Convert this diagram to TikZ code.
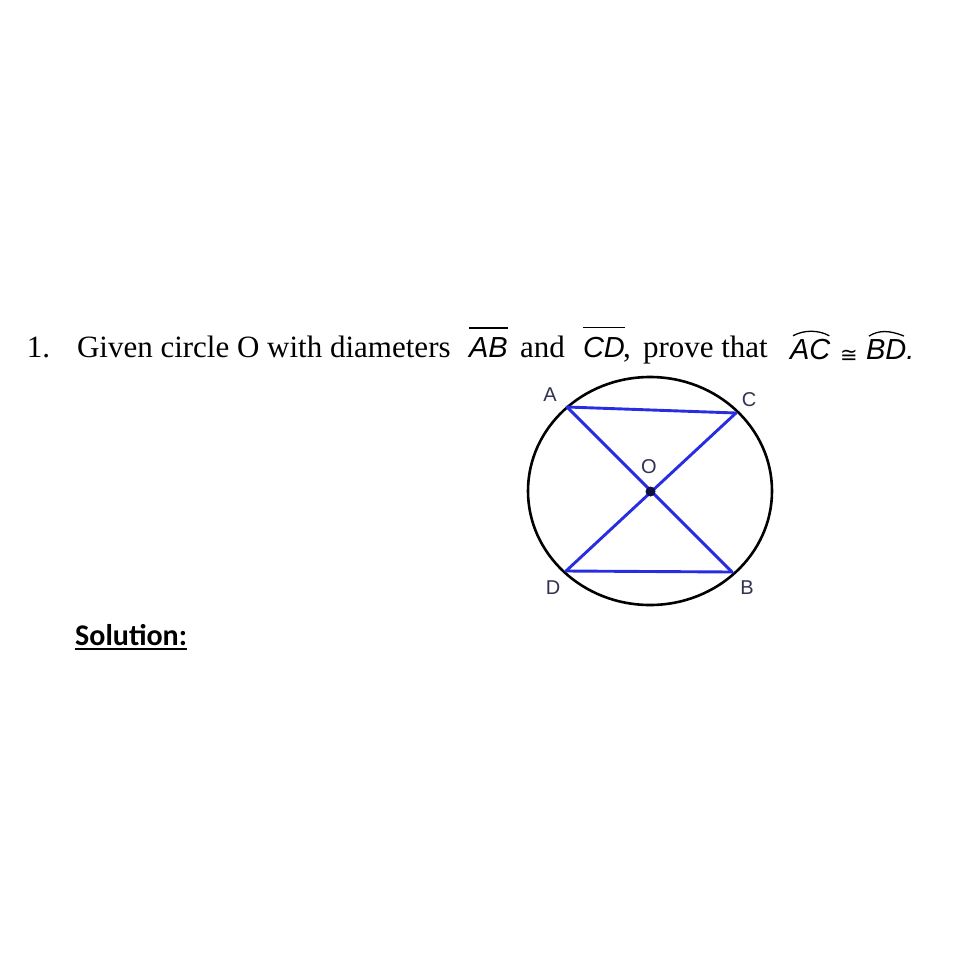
\documentclass[tikz,border=0pt]{standalone}
\usepackage{fontspec}
\usetikzlibrary{shapes.geometric}
\setmainfont{Liberation Serif}
\newfontfamily\arialfont{Liberation Sans}
\newfontfamily\calfont{Carlito}
\newfontfamily\symfont{DejaVu Sans}
\definecolor{lineblue}{RGB}{40,45,225}
\definecolor{labelgray}{RGB}{50,50,80}
\definecolor{dotnavy}{RGB}{15,15,70}
\tikzset{
  txt/.style={anchor=base west, inner sep=0pt, outer sep=0pt, font=\fontsize{31}{36}\selectfont},
  mth/.style={anchor=base west, inner sep=0pt, outer sep=0pt, font=\arialfont\itshape\fontsize{29}{34}\selectfont},
  ptlabel/.style={inner sep=0pt, text=labelgray, font=\arialfont\fontsize{20}{22}\selectfont},
  chord/.style={draw=lineblue, line width=2.9pt, line cap=round, line join=round},
  bar/.style={draw=black, line width=1.3pt},
}
\begin{document}
\begin{tikzpicture}[x=1pt,y=-1pt]
\path[fill=white] (0,0) rectangle (975,975);
\useasboundingbox (0,0) rectangle (975,975);
% statement
\node[txt] (num) at (27,357) {1.};
\node[txt] (given) at (77,357) {Given circle O with diameters};
\node[mth] (ab) at (469,357) {AB};
\node[txt] (and) at (520,357) {and};
\node[mth] (cd) at (583,357) {CD};
\node[txt] (comma) at (623,357) {,};
\node[txt] (prove) at (643,357) {prove that};
\node[mth] (ac) at (790,359) {AC};
\node[anchor=base west, inner sep=0pt, font=\symfont\fontsize{21}{24}\selectfont] (cong) at (840,362) {≅};
\node[mth] (bd) at (866,359) {BD.};
\draw[bar] ([yshift=9pt]ab.north west) -- ([yshift=9pt]ab.north east);
\draw[bar] ([yshift=9pt]cd.north west) -- ([yshift=9pt]cd.north east);
\draw[bar] ([shift={(3,-3)}]ac.north west) .. controls ([shift={(14,-9)}]ac.north west) and ([shift={(-12,-9)}]ac.north east) .. ([shift={(-1,-3)}]ac.north east);
\draw[bar] ([shift={(3,-3)}]bd.north west) .. controls ([shift={(13,-9)}]bd.north west) and ([shift={(23,-9)}]bd.north west) .. ([shift={(38,-3)}]bd.north west);
% solution
\node[anchor=base west, inner sep=0pt, font=\calfont\bfseries\fontsize{30}{34}\selectfont] (sol) at (75,645) {Solution:};
\draw[line width=1.8pt] ([yshift=-4pt]sol.base west) -- ([yshift=-4pt]sol.base east);
% figure
\node[draw=black, line width=2.6pt, ellipse, minimum width=244pt, minimum height=228pt, inner sep=0pt] (circ) at (650,491) {};
\coordinate (A) at (567,407);
\coordinate (C) at (736,413);
\coordinate (D) at (566,571);
\coordinate (B) at (732,572);
\coordinate (O) at (650.5,491.5);
\draw[chord] (A) -- (C);
\draw[chord] (D) -- (B);
\draw[chord] (A) -- (B);
\draw[chord] (C) -- (D);
\fill[dotnavy] (O) circle (5pt);
\node[ptlabel] (la) at (550,395) {A};
\node[ptlabel] (lc) at (749,400) {C};
\node[ptlabel] (lo) at (649,467) {O};
\node[ptlabel] (ld) at (553,588) {D};
\node[ptlabel] (lb) at (747,588) {B};
\end{tikzpicture}
\end{document}
